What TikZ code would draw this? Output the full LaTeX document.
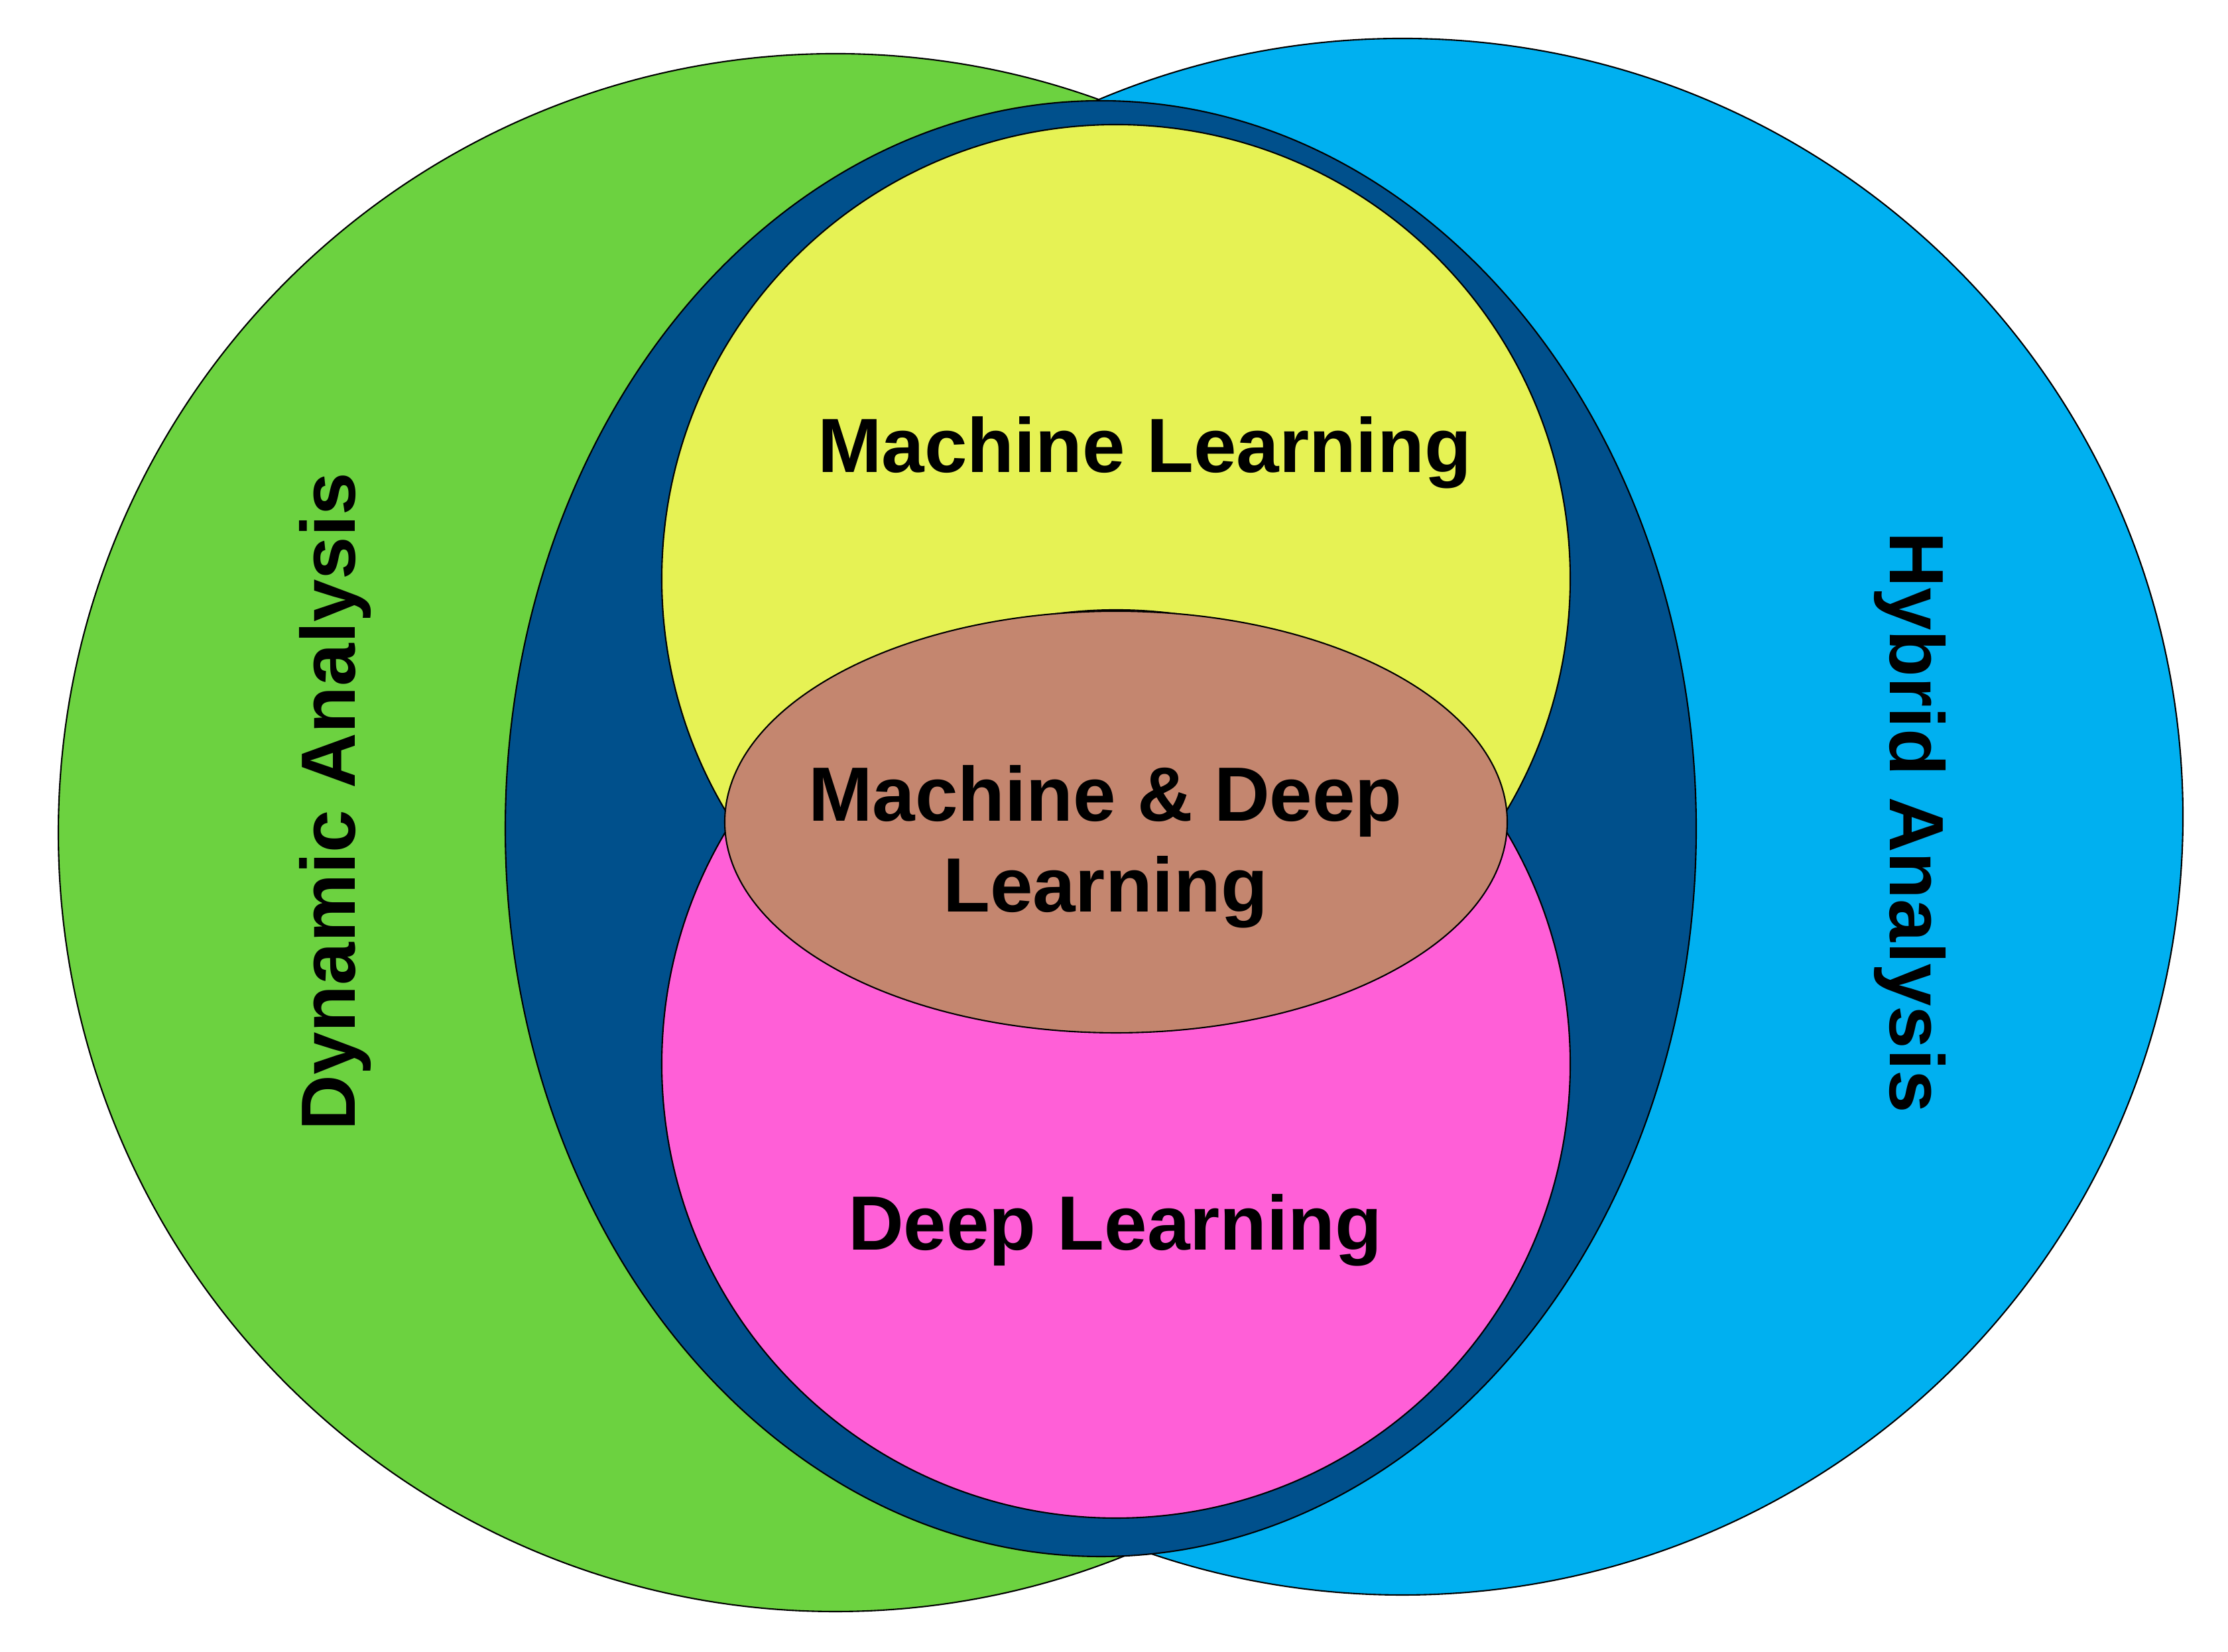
\documentclass[tikz,border=0pt]{standalone}
\usepackage{fontspec}
\setmainfont{Liberation Sans}
\definecolor{cgreen}{RGB}{108,210,64}
\definecolor{cblue}{RGB}{0,176,240}
\definecolor{cnavy}{RGB}{0,80,140}
\definecolor{cyellow}{RGB}{230,242,84}
\definecolor{cpink}{RGB}{255,95,215}
\definecolor{cbrown}{RGB}{196,134,111}
\tikzset{
  blob/.style={draw=black, line width=0.6pt},
  lbl/.style={inner sep=0pt, anchor=base, font=\fontsize{33}{39}\selectfont\bfseries}
}
\begin{document}
\begin{tikzpicture}
\useasboundingbox (0,0) rectangle (33.6,24.92);
\fill[white] (0,0) rectangle (33.6,24.92);
% outer sets
\filldraw[blob, fill=cgreen] (12.60,12.36) ellipse [x radius=11.72cm, y radius=11.75cm];
\filldraw[blob, fill=cblue] (21.15,12.60) ellipse [x radius=11.77cm, y radius=11.74cm];
% overlap region
\filldraw[blob, fill=cnavy] (16.60,12.42) ellipse [x radius=8.98cm, y radius=10.98cm];
% inner sets
\filldraw[blob, fill=cyellow] (16.83,16.19) circle [radius=6.85cm];
\filldraw[blob, fill=cpink] (16.83,8.87) circle [radius=6.85cm];
\filldraw[blob, fill=cbrown] (16.83,12.52) ellipse [x radius=5.90cm, y radius=3.18cm];
% labels
\node[lbl] (ml) at (17.26,17.79) {Machine Learning};
\node[lbl] (mdl1) at (16.67,12.53) {Machine \& Deep};
\node[lbl] (mdl2) at (16.67,11.16) {Learning};
\node[lbl] (dl) at (16.82,6.06) {Deep Learning};
\node[lbl, rotate=90] (dyn) at (5.35,12.83) {Dynamic Analysis};
\node[lbl, rotate=-90] (hyb) at (28.50,12.51) {Hybrid Analysis};
\end{tikzpicture}
\end{document}
